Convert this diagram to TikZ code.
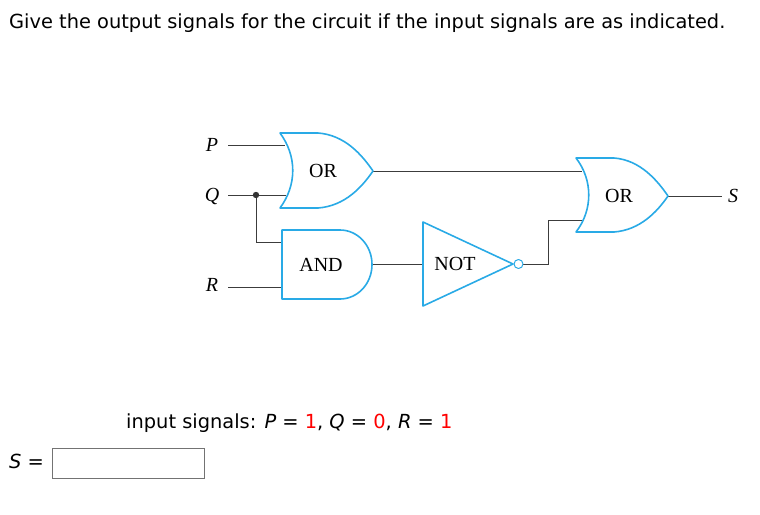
\documentclass[tikz,border=0pt]{standalone}
\usepackage{fontspec}
\setmainfont{DejaVu Sans}
\newfontfamily\gfont{Liberation Serif}
\begin{document}
\begin{tikzpicture}[x=1pt,y=-1pt,
  gate/.style={draw={rgb,255:red,41;green,170;blue,230},line width=1.6pt,fill=white,line join=round},
  wire/.style={draw={rgb,255:red,60;green,60;blue,60},line width=0.9pt},
  glab/.style={font=\gfont\fontsize{20}{20}\selectfont},
  vlab/.style={font=\gfont\itshape\fontsize{20}{20}\selectfont},
  txt/.style={font=\fontsize{19.4}{22}\selectfont,anchor=base west,inner sep=0pt}]
\useasboundingbox (0,0) rectangle (760,514);
\node[txt] (title) at (9,28) {Give the output signals for the circuit if the input signals are as indicated.};
% coordinates
\coordinate (p) at (228,145); \coordinate (pin) at (285,145);
\coordinate (q) at (228,195); \coordinate (qin) at (286,195);
\coordinate (dot) at (256,195); \coordinate (bend) at (256,242); \coordinate (ain1) at (282,242);
\coordinate (r) at (228,287); \coordinate (ain2) at (282,287);
\coordinate (o1) at (373,171); \coordinate (o2in1) at (582,171);
\coordinate (aout) at (372,264); \coordinate (nin) at (423,264);
\coordinate (nout) at (523,264); \coordinate (c1) at (548,264); \coordinate (c2) at (548,220);
\coordinate (o2in2) at (582,220); \coordinate (o2out) at (668,196); \coordinate (s) at (722,196);
% wires
\draw[wire] (p) -- (pin); \draw[wire] (q) -- (qin);
\draw[wire] (dot) -- (bend) -- (ain1); \draw[wire] (r) -- (ain2);
\draw[wire] (o1) -- (o2in1); \draw[wire] (aout) -- (nin);
\draw[wire] (nout) -- (c1) -- (c2) -- (o2in2); \draw[wire] (o2out) -- (s);
\fill[black!80] (dot) circle (3.2);
% OR1
\path[gate] (280,133) -- (318,133) .. controls (345,135) and (362,155) .. (373,171)
  .. controls (362,187) and (345,206) .. (318,208) -- (280,208)
  .. controls (297,185) and (297,156) .. cycle;
\node[glab] (orl) at (323,171) {OR};
% AND
\path[gate] (282,230) -- (340,230) .. controls (357.7,230) and (372,245.4) .. (372,264.5)
  .. controls (372,283.6) and (357.7,299) .. (340,299) -- (282,299) -- cycle;
\node[glab] (andl) at (321,265) {AND};
% NOT
\path[gate] (423,222) -- (513,264) -- (423,306) -- cycle;
\draw[gate,line width=1pt] (518.5,264) circle (4.5);
\node[glab] (notl) at (455,264) {NOT};
% OR2
\path[gate] (576,158) -- (614,158) .. controls (640,160) and (657,180) .. (668,196)
  .. controls (657,212) and (640,230) .. (614,232) -- (576,232)
  .. controls (593,210) and (593,180) .. cycle;
\node[glab] (or2l) at (619,196) {OR};
% labels
\node[vlab] (pl) at (212,145) {P};
\node[vlab] (ql) at (212,196) {Q};
\node[vlab] (rl) at (212,285) {R};
\node[vlab] (sl) at (733,196) {S};
\node[txt] (sig) at (126,428) {input signals: \textit{P} = \textcolor{red}{1}, \textit{Q} = \textcolor{red}{0}, \textit{R} = \textcolor{red}{1}};
\node[txt] (seq) at (9,468) {\textit{S} =};
\draw[black!55,line width=0.8pt] (52,448) rectangle (204,478);
\end{tikzpicture}
\end{document}
